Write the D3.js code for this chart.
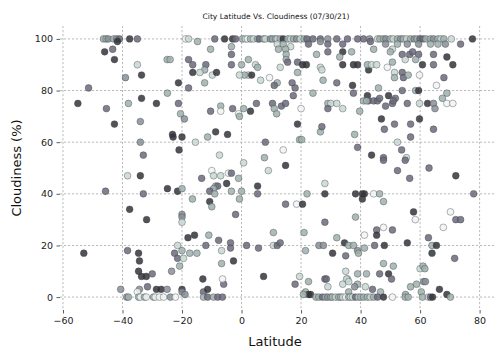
<!DOCTYPE html>
<html>
<head>
<meta charset="utf-8">
<script src="https://cdn.jsdelivr.net/npm/d3@7"></script>
<style>
html,body{margin:0;padding:0;background:#fff;}
svg{display:block;font-family:"DejaVu Sans",sans-serif;}
</style>
</head>
<body>
<svg id="chart" width="504" height="360"></svg>
<script>
const titleText = "City Latitude Vs. Cloudiness (07/30/21)";
const xLabel = "Latitude";
const yLabel = "Cloudiness (%)";
const xTicks = [-60, -40, -20, 0, 20, 40, 60, 80];
const yTicks = [0, 20, 40, 60, 80, 100];
const shadePalette = ["#34343c", "#6a6a7c", "#878f98", "#9db0ae", "#c8d8d5", "#f0f5f4"];

// [latitude, cloudiness, shade index]
const topRow = [
[-46.4,100,3],[-45.5,100,3],[-44.8,100,2],[-43,100,3],[-42,100,2],[-41,100,1],[-37.6,100,0],[-35,100,1],[-18.8,100,5],[-17.8,100,4],[-14.8,99,3],[-9,100,1],[-5.7,100,0],[-3,100,0],[-2,100,1],[0.3,100,3],[1.3,100,4],[2,100,5],[3,100,3],[4,100,4],[5.4,100,3],[6,100,1],[7.4,100,3],[8,100,4],[9.7,100,2],[10.5,100,3],[11.4,100,3],[12,100,4],[13,100,3],[14,100,0],[15.5,100,3],[16.5,100,4],[17.5,100,3],[18.5,100,2],[19.8,100,4],[21,100,3],[22,100,1],[24,100,1],[26.5,100,1],[29,100,2],[32,100,1],[35.6,100,1],[39,100,1],[41,100,1],[43,100,2],[45.7,100,4],[46.5,100,3],[47.7,100,3],[48.5,100,2],[50,100,3],[51,100,4],[52.4,100,3],[53.5,100,2],[54.4,100,3],[55.5,100,4],[56.8,100,3],[58,100,2],[59,100,3],[60,100,1],[61,100,1],[62,100,3],[63.5,100,3],[64.5,100,2],[66,100,3],[67,100,4],[68,100,3],[70.5,100,4],[77.6,100,0],
[-41.7,99,0],[12,98,4],[14,98,3],[16.5,97,4],[12.4,96,3],[14.8,96,3],[22.5,98,1],[26.5,99,2],[29,98,1],[34,98,1],[43.3,99,1],[48.4,98,2],[52.4,98,3],[55.7,98,2],[59.5,98,2],[63.5,98,3],[66,98,3],[68.5,98,2],[73.6,98,1],[44.4,96,3],[50.7,96,4]
];
const upperRows = [
[-10.4,96,3],[-3.4,97,3],[-3.4,94,1],[-3.4,90,1],[-12,90,1],[-12.4,88,3],[-9.8,86,4],[-8.4,87,0],[-12.4,83,3],[0,90,3],[2.3,92,3],[4.7,90,4],[5.4,89,3],[2.3,86,4],[1,86,3],[-0.7,86,4],[3.4,86,0],[6.4,84,4],[9.4,85,5],[12,83,3],[11,82,1],[13,89,4],[15,94,3],[15,92,3],[15.5,91,1],[18.8,91,1],[20.5,90,0],[21.8,90,0],[18.8,87,3],[17,83,1],[18,81,1],[17.4,78,1],[25.2,94,3],[29,95,1],[34,95,0],[37,95,3],[26.5,89,4],[27,88,4],[27.4,84,3],[32,83,1],[37.3,82,0],[37.6,79,1],[24,79,3],[39,90,0],[37.6,90,0],[34,90,0],[33,93,3],
[-46,95,0],[-43.3,96,1],[-42.7,92,0],[-39,85,2],[-35,90,4],[-33.6,86,0],[-51.4,81,1],[-24.9,79,3],[-21.2,83,0],[-17.8,81,1],[-25,92,3],[-24,92,3],[-17.8,92,1],[-16.4,90,1],[-16.4,87,0],[-14,87,4],
[42.7,88,0],[42.3,90,3],[43.7,90,4],[45.4,90,4],[49,89,5],[50,95,3],[50.7,91,3],[51.4,87,4],[51.4,85,3],[54,87,1],[54.4,85,1],[56,86,3],[54,94,1],[55,92,4],[56.5,94,1],[57.5,95,1],[59.5,94,1],[58.5,92,3],[60.8,90,0],[59.8,86,5],[64.5,94,1],[64.5,90,1],[69,93,0],[71,90,0],[68,85,1],[65.5,82,5],[46,81,3],[54,80,1],[58.5,80,3],[59.5,80,0],[42.3,78,0],[69,79,3],[49.4,78,0]
];
const middleRows = [
[-55,75,0],[-45.4,73,1],[-42.7,67,0],[-38,75,3],[-33.6,77,0],[-28.6,75,0],[-34,68,2],[-21.2,75,1],[-20.5,71,3],[-19.2,69,2],[-23.2,63,0],[-23,62,0],[-20,62,0],[-34,60,2],[-15.5,60,4],[-33,55,1],[-21,57,0],
[-10.4,72,1],[-7,74,3],[-7,72,5],[-3,73,1],[-1,71,5],[-0.7,70,3],[0.7,73,3],[3,72,0],[5,75,1],[10.4,75,1],[11,73,3],[11.8,71,3],[13.4,74,1],[14.8,75,1],[20,73,5],[18.8,67,0],[26.5,64,3],[27,66,1],[29,75,3],[30,75,4],[29,73,1],[32,75,4],[34,73,4],[38,63,3],[39,58,1],[-8.7,64,0],[-4.7,63,0],[-11.4,62,3],[8,60,1],[19.5,61,3],[20.2,61,3],[7.7,54,3],[14,57,5],[-7.4,55,4],
[42.7,76,1],[41,76,3],[42,76,3],[44.4,76,1],[45.7,76,1],[46.4,77,1],[48.4,74,1],[50.7,75,1],[51.7,77,1],[51,76,1],[55.7,75,1],[59.8,75,4],[62.5,75,0],[64.5,75,2],[65,73,2],[67.5,77,3],[69,75,5],[71,75,5],[39.7,72,3],[47,69,0],[48,65,1],[51.4,67,1],[56.8,67,1],[59.8,69,0],[64.5,65,1],[43.7,55,0],[47.7,54,1],[52.4,60,4],[53.8,57,1],[56.8,62,1],[55.4,54,4]
];
const lowerRows = [
[-38.3,47,4],[-34,47,0],[-45.7,41,1],[-33,40,1],[-37.6,34,0],[-31.9,30,0],[-24.9,42,0],[-21.5,41,0],[-20,42,3],[-16.5,38,3],[-20,32,2],[-20,31,2],[-20,29,4],[-18,23,0],[-15.8,24,0],[-21.5,20,4],[-20,18,3],[-17.4,17,3],[-15,17,3],[-22.5,17,1],[-21.5,15,1],[-19.5,15,4],[-20.8,12,3],[-23.5,10,2],[-53,17,0],[-38.3,18,1],[-34.6,17,0],[-34.3,14,0],[-34.6,10,0],[-33.6,8,0],[-32,8,0],[-30,9,1],[-31.6,4,1],[-28.6,3,0],[-27,3,0],[-25,3,2],[-40.6,3,2],[-34.3,3,2],[-20,3,0],[-20,2,2],[-19,1,2],[-35,2,5],
[-10,49,5],[-9.4,47,4],[-7,47,4],[-4.4,48,5],[-3.4,48,1],[-1,46,3],[0.7,52,4],[9,49,4],[14.8,51,0],[-13.4,46,1],[-8.7,43,3],[-8,43,1],[-9.4,42,3],[-5,44,0],[-10.7,41,1],[-9,40,3],[-3.4,41,3],[0,41,3],[-0.7,38,3],[-10.7,37,0],[-10,35,3],[-2,32,1],[5.4,43,0],[5.4,40,1],[14.8,36,1],[18.5,36,5],[20.5,36,0],[22,40,3],[28,40,0],[28,44,4],[28,29,1],[38.3,40,0],[38.3,31,3],[-11,24,3],[-7.7,22,1],[-3.7,21,1],[-12,20,1],[-3.7,19,1],[-6.7,18,4],[1.7,20,1],[5.7,19,1],[10.7,25,3],[10.7,20,4],[12,20,1],[13,21,1],[21,25,3],[21.5,18,3],[26,20,2],[27.5,20,2],[30.6,17,0],[32,23,3],[34.6,21,0],[36,20,3],[37.6,20,3],[35,16,1],[39,18,2],[-2.7,14,0],[-6.7,13,3],[7.4,8,0],[19.5,8,4],[18,5,1],[22.5,6,3],[28,7,1],[28.5,7,1],[35,10,4],[35.6,7,4],[39,9,3],[29,4,4],[34,5,4],[39,5,3],[38,4,2],[21.5,2,3],[22.5,1,0],[36,2,3],[-13,7,0],[-6,5,1],[-6.4,7,5],[-12.8,2,1],[-11.4,3,0],
[47.7,53,1],[55,53,1],[52.4,49,1],[56.5,46,1],[63,50,1],[72,47,0],[78,40,1],[40.6,40,0],[41.3,40,0],[44.4,40,5],[46.4,40,3],[40.6,38,0],[47.7,37,3],[57.8,33,0],[58.4,30,5],[70.2,33,5],[72,30,1],[73.6,30,1],[67.8,27,5],[45.4,26,1],[45.4,24,0],[47.7,27,5],[50.7,26,1],[41.3,24,5],[39.3,17,3],[41.3,19,3],[44.7,20,1],[48,20,0],[55.7,21,0],[62.8,23,1],[64,20,3],[65.5,20,0],[64,17,0],[71.6,15,1],[47.7,13,3],[51,12,3],[42,9,3],[46.4,9,1],[49.4,9,0],[50.4,7,1],[60,11,4],[61,12,3],[61.6,11,3],[35.3,7,4],[36,6,4],[41.6,4,4],[44,3,1],[46.7,2,3],[56.8,4,3],[58.8,5,3],[61.2,6,2],[61.8,6,2],[66.5,3,0],[69,1,0],[60.4,2,3],[55.1,1,3]
];
const zeroRow = [
[-38.6,0,2],[-38,0,3],[-34.6,0,3],[-34,0,5],[-32.6,0,3],[-32,0,5],[-29.6,0,3],[-29,0,5],[-27.6,0,5],[-26.2,0,5],[-23.9,0,2],[-22.2,0,5],
[-12.8,0,3],[-11.4,0,1],[-9.4,0,3],[-8,0,1],[-6.4,0,1],
[20.8,1,3],[23.2,1,0],[25,0,3],[26,0,3],[27.2,0,1],[28.2,0,3],[29,0,2],[30,0,3],[30.5,0,3],[31.6,0,4],[32.6,0,3],[33.3,0,3],[34,0,4],[35,0,5],[36,0,3],[36.6,0,4],[37.3,0,4],[38.3,0,1],[39.3,0,4],[40,0,3],[41,0,3],[42.3,0,3],[43.3,0,4],[44.4,0,3],[45.7,0,1],[47.7,0,0],[50.7,0,5],[55,0,3],[56,0,3],[60.8,0,3],[62.8,0,4],[63.5,0,1],[64.2,0,0],[70.2,0,3]
];

(function () {
const points = [].concat(topRow, upperRows, middleRows, lowerRows, zeroRow);

const svg = d3.select("#chart");
const pLeft = 60, pRight = 494.5, pTop = 26, pBottom = 310;
const x = d3.scaleLinear().domain([-61, 85]).range([pLeft, pRight]);
const y = d3.scaleLinear().domain([-5, 105]).range([pBottom, pTop]);

// grid
const grid = svg.append("g");
grid.selectAll("line.vx").data(xTicks).join("line")
  .attr("x1", d => x(d)).attr("x2", d => x(d))
  .attr("y1", pTop).attr("y2", pBottom)
  .attr("stroke", "#aaaaaa").attr("stroke-width", 0.8).attr("stroke-dasharray", "2.2,1.8");
grid.selectAll("line.hy").data(yTicks).join("line")
  .attr("x1", pLeft).attr("x2", pRight)
  .attr("y1", d => y(d)).attr("y2", d => y(d))
  .attr("stroke", "#aaaaaa").attr("stroke-width", 0.8).attr("stroke-dasharray", "2.2,1.8");

// axes
const fmt = d => d < 0 ? "\u2212" + Math.abs(d) : String(d);
const xAxis = d3.axisBottom(x).tickValues(xTicks).tickFormat(fmt).tickSize(3.5).tickPadding(3.5);
const yAxis = d3.axisLeft(y).tickValues(yTicks).tickFormat(fmt).tickSize(3.5).tickPadding(3.5);
const gx = svg.append("g").attr("transform", `translate(0,${pBottom})`).call(xAxis);
const gy = svg.append("g").attr("transform", `translate(${pLeft},0)`).call(yAxis);
[gx, gy].forEach(g => {
  g.select(".domain").remove();
  g.selectAll(".tick line").attr("stroke", "#333").attr("stroke-width", 0.8);
  g.selectAll(".tick text").attr("fill", "#222").style("font-size", "9.5px").style("font-family", "'DejaVu Sans', sans-serif");
});

// points
svg.append("g").selectAll("circle").data(points).join("circle")
  .attr("cx", d => x(d[0])).attr("cy", d => y(d[1])).attr("r", 3.4)
  .attr("fill", d => shadePalette[d[2]]).attr("fill-opacity", 0.85)
  .attr("stroke", "#3a3a3a").attr("stroke-opacity", 0.55).attr("stroke-width", 0.7);

// title and labels
svg.append("text").attr("x", 276).attr("y", 19).attr("text-anchor", "middle")
  .style("font-size", "7.5px").attr("fill", "#111").text(titleText);
svg.append("text").attr("x", 275).attr("y", 346).attr("text-anchor", "middle")
  .style("font-size", "13px").attr("fill", "#111").text(xLabel);
svg.append("text").attr("transform", "translate(21,168) rotate(-90)").attr("text-anchor", "middle")
  .style("font-size", "13px").attr("fill", "#111").text(yLabel);
})();
</script>
</body>
</html>
